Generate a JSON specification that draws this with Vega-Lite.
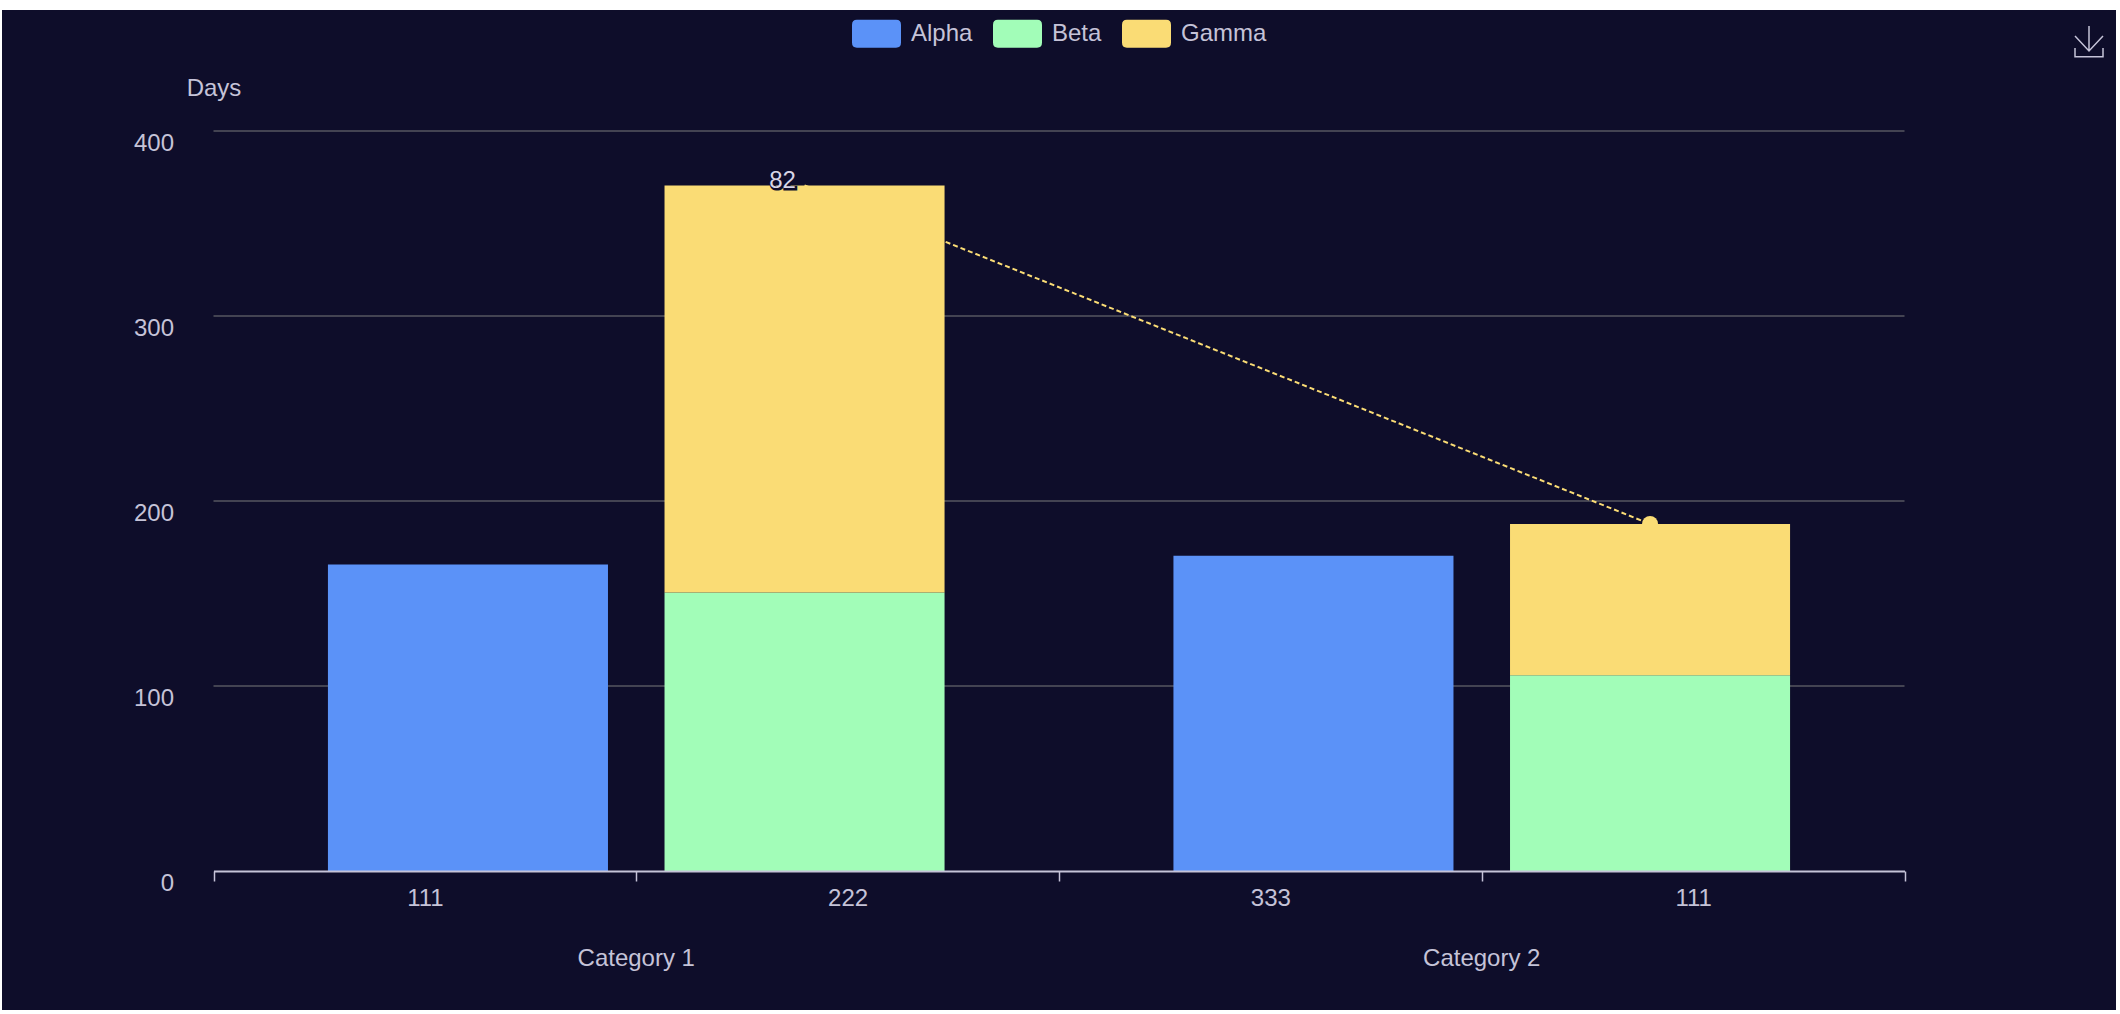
{
  "$schema": "https://vega.github.io/schema/vega-lite/v6.json",
  "width": 2114,
  "height": 1000,
  "autosize": {"type": "none"},
  "padding": {"left": 2, "top": 10, "right": 4, "bottom": 4},
  "background": "#ffffff",
  "view": {"fill": "#0e0d2a", "stroke": null},
  "config": {"font": "Liberation Sans", "text": {"font": "Liberation Sans"}},
  "datasets": {
    "bars": [
      {"category": "Category 1", "slot": "a", "series": "Alpha", "value": 165.7},
      {"category": "Category 1", "slot": "b", "series": "Beta", "value": 150.6},
      {"category": "Category 1", "slot": "b", "series": "Gamma", "value": 220},
      {"category": "Category 2", "slot": "a", "series": "Alpha", "value": 170.4},
      {"category": "Category 2", "slot": "b", "series": "Beta", "value": 105.8},
      {"category": "Category 2", "slot": "b", "series": "Gamma", "value": 81.8}
    ],
    "tops": [
      {"category": "Category 1", "slot": "b", "top": 370.6},
      {"category": "Category 2", "slot": "b", "top": 187.6}
    ],
    "dots": [{"category": "Category 2", "slot": "b", "top": 187.6}],
    "grid": [{"tick": 100}, {"tick": 200}, {"tick": 300}, {"tick": 400}],
    "labels": [{"category": "Category 1", "slot": "b", "top": 370.6, "label": "82"}],
    "sub": [
      {"key": "1|111"}, {"key": "1|222"}, {"key": "2|333"}, {"key": "2|111"}
    ]
  },
  "layer": [
    {
      "encoding": {
        "x": {
          "field": "category",
          "type": "nominal",
          "sort": null,
          "scale": {"range": [211.5, 1902.5], "paddingInner": 0, "paddingOuter": 0},
          "axis": {
            "orient": "bottom",
            "offset": -139,
            "title": null,
            "domain": false,
            "ticks": false,
            "labelAngle": 0,
            "labelPadding": 75,
            "labelFontSize": 24,
            "labelColor": "#c5c3d8",
            "zindex": 1
          }
        }
      },
      "layer": [
        {
          "data": {"name": "grid"},
          "mark": {"type": "rule", "color": "#565660", "strokeWidth": 1.5},
          "encoding": {
            "x": {"datum": "Category 1", "bandPosition": 0},
            "x2": {"datum": "Category 2", "bandPosition": 1},
            "y": {
              "field": "tick",
              "type": "quantitative",
              "scale": {"domain": [0, 400], "range": [861, 121], "nice": false},
              "axis": {
                "values": [0, 100, 200, 300, 400],
                "offset": -211.5,
                "grid": false,
                "domain": false,
                "ticks": false,
                "labelPadding": 40,
                "labelOffset": 12,
                "labelFontSize": 24,
                "labelColor": "#c5c3d8",
                "title": "Days",
                "titleFontSize": 24,
                "titleFontWeight": "normal",
                "titleColor": "#c5c3d8",
                "titleAngle": 0,
                "titleX": 0,
                "titleY": 78,
                "titleAlign": "center",
                "titleBaseline": "middle"
              }
            }
          }
        },
        {
          "data": {"name": "tops"},
          "mark": {"type": "line", "color": "#fadc75", "strokeWidth": 2, "strokeDash": [5, 3]},
          "encoding": {
            "xOffset": {"field": "slot", "type": "nominal", "scale": {"domain": ["a", "b"], "paddingInner": 0.168, "paddingOuter": 0.34}},
            "y": {"field": "top", "type": "quantitative"}
          }
        },
        {
          "data": {"name": "dots"},
          "mark": {"type": "point", "filled": true, "color": "#fadc75", "size": 256, "opacity": 1},
          "encoding": {
            "xOffset": {"field": "slot", "type": "nominal"},
            "y": {"field": "top", "type": "quantitative"}
          }
        },
        {
          "data": {"name": "bars"},
          "mark": {"type": "bar"},
          "encoding": {
            "xOffset": {"field": "slot", "type": "nominal"},
            "y": {"field": "value", "type": "quantitative", "stack": "zero"},
            "order": {"field": "series"},
            "color": {
              "field": "series",
              "type": "nominal",
              "scale": {"domain": ["Alpha", "Beta", "Gamma"], "range": ["#5b92f8", "#a2fdb8", "#fadc75"]},
              "legend": {
                "orient": "none",
                "legendX": 850,
                "legendY": -1,
                "direction": "horizontal",
                "columns": 3,
                "title": null,
                "padding": 0,
                "symbolType": "M-0.8,-0.57 L0.8,-0.57 Q1,-0.57 1,-0.37 L1,0.37 Q1,0.57 0.8,0.57 L-0.8,0.57 Q-1,0.57 -1,0.37 L-1,-0.37 Q-1,-0.57 -0.8,-0.57 Z",
                "symbolSize": 2401,
                "symbolStrokeWidth": 0,
                "labelFontSize": 24,
                "labelColor": "#c5c3d8",
                "labelOffset": 10,
                "columnPadding": 20
              }
            }
          }
        },
        {
          "data": {"name": "labels"},
          "mark": {"type": "text", "fontSize": 24, "stroke": "#0e0d2a", "strokeWidth": 3, "dx": -21, "dy": -3},
          "encoding": {
            "xOffset": {"field": "slot", "type": "nominal"},
            "y": {"field": "top", "type": "quantitative"},
            "text": {"field": "label"}
          }
        },
        {
          "data": {"name": "labels"},
          "mark": {"type": "text", "fontSize": 24, "color": "#d8d6e6", "dx": -22, "dy": -4},
          "encoding": {
            "xOffset": {"field": "slot", "type": "nominal"},
            "y": {"field": "top", "type": "quantitative"},
            "text": {"field": "label"}
          }
        }
      ]
    },
    {
      "data": {"name": "sub"},
      "mark": {"type": "point", "size": 0, "filled": false},
      "encoding": {
        "x": {
          "field": "key",
          "type": "nominal",
          "sort": null,
          "scale": {"range": [211.5, 1902.5], "paddingInner": 0, "paddingOuter": 0},
          "axis": {
            "orient": "bottom",
            "offset": -139,
            "title": null,
            "labelExpr": "split(datum.label, '|')[1]",
            "labelAngle": 0,
            "labelPadding": 5,
            "labelFontSize": 24,
            "labelColor": "#c5c3d8",
            "domainColor": "#c5c3d8",
            "domainWidth": 2,
            "tickColor": "#c5c3d8",
            "tickWidth": 1.5,
            "tickSize": 10,
            "tickBand": "extent",
            "zindex": 1
          }
        },
        "opacity": {
          "datum": "download",
          "type": "nominal",
          "scale": {"domain": ["download"], "range": [1, 1]},
          "legend": {
            "orient": "none",
            "legendX": 2070,
            "legendY": 14.5,
            "title": null,
            "padding": 0,
            "labelExpr": "''",
            "labelOffset": 0,
            "symbolType": "M0,-0.97 L0,0.59 M-0.875,-0.34 L0,0.59 L0.875,-0.34 M-0.875,0.4 L-0.875,0.95 L0.875,0.95 L0.875,0.4",
            "symbolSize": 1024,
            "symbolStrokeColor": "#c5c3d8",
            "symbolFillColor": "transparent",
            "symbolStrokeWidth": 1.5
          }
        }
      }
    }
  ],
  "resolve": {"scale": {"x": "independent", "color": "independent"}, "axis": {"x": "independent"}}
}
